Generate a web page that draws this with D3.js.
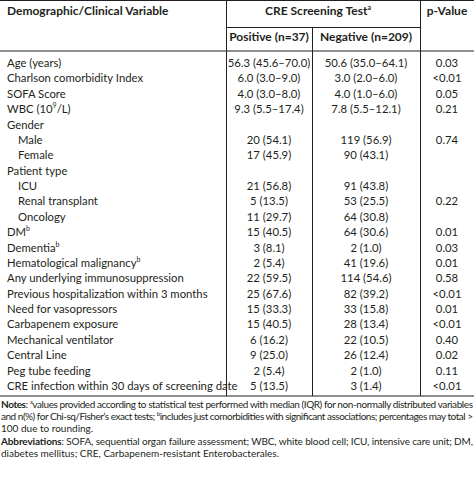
<!DOCTYPE html>
<html><head><meta charset="utf-8">
<script src="https://cdn.jsdelivr.net/npm/d3@7"></script>
<style>body{margin:0;background:#fff}text{font-family:Lato,"Open Sans",sans-serif;fill:#231f20}</style>
</head><body>
<script>
var width = 474, height = 484;

var labels = ["Age (years)","Charlson comorbidity Index","SOFA Score","WBC (10^9/L)","Gender","Male","Female","Patient type","ICU","Renal transplant","Oncology","DM^b","Dementia^b","Hematological malignancy^b","Any underlying immunosuppression","Previous hospitalization within 3 months","Need for vasopressors","Carbapenem exposure","Mechanical ventilator","Central Line","Peg tube feeding","CRE infection within 30 days of screening date"];
var indent = [0,0,0,0,0,1,1,0,1,1,1,0,0,0,0,0,0,0,0,0,0,0];
var positive = ["56.3 (45.6–70.0)","6.0 (3.0–9.0)","4.0 (3.0–8.0)","9.3 (5.5–17.4)","","20 (54.1)","17 (45.9)","","21 (56.8)","5 (13.5)","11 (29.7)","15 (40.5)","3 (8.1)","2 (5.4)","22 (59.5)","25 (67.6)","15 (33.3)","15 (40.5)","6 (16.2)","9 (25.0)","2 (5.4)","5 (13.5)"];
var negative = ["50.6 (35.0–64.1)","3.0 (2.0–6.0)","4.0 (1.0–6.0)","7.8 (5.5–12.1)","","119 (56.9)","90 (43.1)","","91 (43.8)","53 (25.5)","64 (30.8)","64 (30.6)","2 (1.0)","41 (19.6)","114 (54.6)","82 (39.2)","33 (15.8)","28 (13.4)","22 (10.5)","26 (12.4)","2 (1.0)","3 (1.4)"];
var pvalue = ["0.03","<0.01","0.05","0.21","","0.74","","","","0.22","","0.01","0.03","0.01","0.58","<0.01","0.01","<0.01","0.40","0.02","0.11","<0.01"];

var svg = d3.select("body").append("svg").attr("width", width).attr("height", height);
var y = d3.scaleLinear().domain([0, labels.length - 1]).range([67, 390]);
var cx = [269, 366, 447];

// header
svg.append("text").attr("x", 7).attr("y", 15).attr("font-size", 12).attr("font-weight", "bold").text("Demographic/Clinical Variable");
var h = svg.append("text").attr("x", 318).attr("y", 15).attr("text-anchor", "middle").attr("font-size", 12).attr("font-weight", "bold");
h.append("tspan").text("CRE Screening Test");
h.append("tspan").attr("dy", -5).attr("font-size", 7).text("a");
svg.append("text").attr("x", cx[2]).attr("y", 15).attr("text-anchor", "middle").attr("font-size", 12).attr("font-weight", "bold").text("p-Value");
svg.append("text").attr("x", cx[0]).attr("y", 41).attr("text-anchor", "middle").attr("font-size", 12).attr("font-weight", "bold").text("Positive (n=37)");
svg.append("text").attr("x", cx[1]).attr("y", 41).attr("text-anchor", "middle").attr("font-size", 12).attr("font-weight", "bold").text("Negative (n=209)");

// lines
var line = function(x1, y1, x2, y2, w) { svg.append("line").attr("x1", x1).attr("y1", y1).attr("x2", x2).attr("y2", y2).attr("stroke", "#231f20").attr("stroke-width", w || 1); };
line(0, 0.5, width, 0.5);
line(226, 27.5, 420, 27.5);
line(0, 51, width, 51, 1.2);
line(0, 396, width, 396, 1.2);
line(226.5, 0, 226.5, 396);
line(420.5, 0, 420.5, 396);
line(312.5, 27.5, 312.5, 396);

var rows = svg.selectAll("g.row").data(labels).join("g").attr("transform", function(d, i){ return "translate(0," + y(i) + ")"; });
rows.each(function(d, i) {
  var g = d3.select(this);
  var t = g.append("text").attr("x", 7 + indent[i] * 11).attr("font-size", 11.3);
  var parts = d.split("^");
  if (d.indexOf("10^9") >= 0) { t.append("tspan").text("WBC (10"); t.append("tspan").attr("dy", -5).attr("font-size", 7).text("9"); t.append("tspan").attr("dy", 5).text("/L)"); }
  else { t.append("tspan").text(parts[0]); if (parts[1]) t.append("tspan").attr("dy", -5).attr("font-size", 7).text(parts[1]); }
  [positive[i], negative[i], pvalue[i]].forEach(function(v, k) {
    g.append("text").attr("x", cx[k]).attr("text-anchor", "middle").attr("font-size", 11.3).text(v);
  });
});

// notes
var n1 = svg.append("text").attr("x", 1).attr("y", 408).attr("font-size", 10).attr("textLength", 472).attr("lengthAdjust", "spacing");
n1.append("tspan").attr("font-weight", "bold").text("Notes");
n1.append("tspan").text(": ");
n1.append("tspan").attr("dy", -4).attr("font-size", 6).text("a");
n1.append("tspan").attr("dy", 4).text("values provided according to statistical test performed with median (IQR) for non-normally distributed variables");
var n2 = svg.append("text").attr("x", 1).attr("y", 420).attr("font-size", 10).attr("textLength", 472).attr("lengthAdjust", "spacing");
n2.append("tspan").text("and n(%) for Chi-sq/Fisher’s exact tests; ");
n2.append("tspan").attr("dy", -4).attr("font-size", 6).text("b");
n2.append("tspan").attr("dy", 4).text("includes just comorbidities with significant associations; percentages may total >");
svg.append("text").attr("x", 1).attr("y", 432).attr("font-size", 10).text("100 due to rounding.");
var n4 = svg.append("text").attr("x", 1).attr("y", 445).attr("font-size", 10).attr("textLength", 472).attr("lengthAdjust", "spacing");
n4.append("tspan").attr("font-weight", "bold").text("Abbreviations");
n4.append("tspan").text(": SOFA, sequential organ failure assessment; WBC, white blood cell; ICU, intensive care unit; DM,");
svg.append("text").attr("x", 1).attr("y", 457).attr("font-size", 10).text("diabetes mellitus; CRE, Carbapenem-resistant Enterobacterales.");
</script>
</body></html>
